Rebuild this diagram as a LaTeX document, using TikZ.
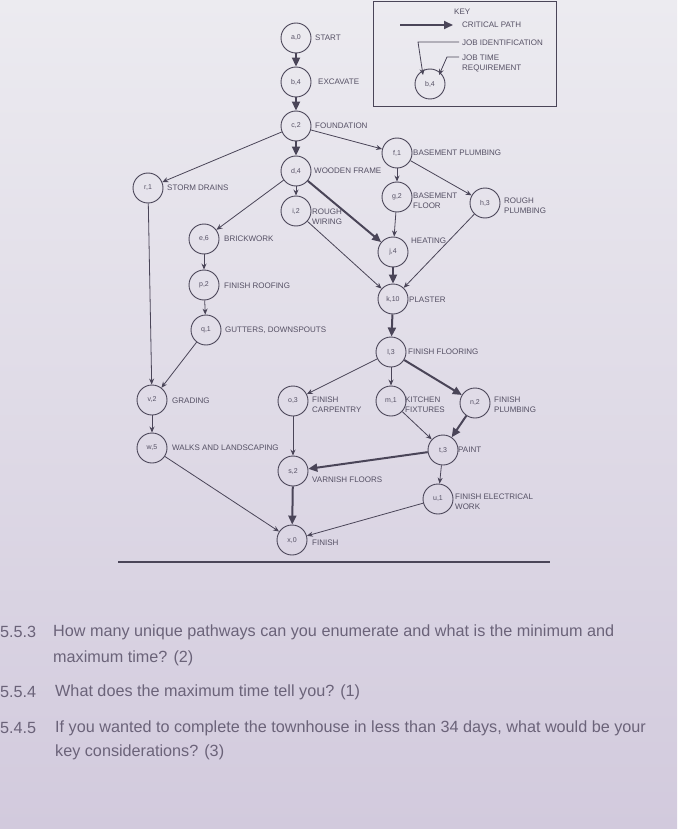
\documentclass[tikz,border=0pt]{standalone}
\usepackage{fontspec}
\setmainfont{Liberation Sans}
\usetikzlibrary{arrows.meta}
\definecolor{ink}{HTML}{4A4558}
\definecolor{txt}{HTML}{555064}
\definecolor{qtxt}{HTML}{6B6379}
\definecolor{bgtop}{HTML}{ECEBF0}
\definecolor{bgbot}{HTML}{D2CADD}
\begin{document}
\begin{tikzpicture}[x=1pt, y=-1pt,
  job/.style={circle, draw=ink, line width=0.9pt, minimum size=30pt, inner sep=0pt, text=txt, font=\fontsize{7}{8}\selectfont},
  lbl/.style={anchor=west, inner sep=0pt, text=txt, align=left, font=\fontsize{8}{10}\selectfont},
  act/.style={draw=ink, line width=0.8pt, -{Stealth[length=6pt,width=5pt]}},
  crit/.style={draw=ink, line width=2pt, -{Triangle[length=9pt,width=8pt]}},
  qst/.style={anchor=west, inner sep=0pt, text=qtxt, font=\fontsize{16.2}{19}\selectfont}]
  \shade[top color=bgtop, bottom color=bgbot] (0,0) rectangle (677,829);
  \useasboundingbox (0,0) rectangle (677,829);
  % key
  \draw[ink, line width=1pt] (373,2) rectangle (556,107);
  \node[lbl] (keyT) at (454,12) {KEY};
  \coordinate (kA) at (400,25); \coordinate (kB) at (453,25);
  \draw[crit] (kA) -- (kB);
  \node[lbl] (keyCP) at (462,25) {CRITICAL PATH};
  \node[lbl] (keyID) at (462,43) {JOB IDENTIFICATION};
  \node[lbl] (keyTR) at (462,63) {JOB TIME\\REQUIREMENT};
  \node[job] (keyjob) at (430,84) {b,4};
  \coordinate (idA) at (459,42); \coordinate (idB) at (418,42); \coordinate (idC) at (423,75);
  \coordinate (trA) at (459,57); \coordinate (trB) at (447,57); \coordinate (trC) at (439,75);
  \draw[act] (idA) -- (idB) -- (idC);
  \draw[act] (trA) -- (trB) -- (trC);
  % jobs
  \node[job] (a) at (296,38) {a,0};
  \node[job] (b) at (296,82) {b,4};
  \node[job] (c) at (296,126) {c,2};
  \node[job] (d) at (296,171) {d,4};
  \node[job] (f) at (397,153) {f,1};
  \node[job] (r) at (148,188) {r,1};
  \node[job] (g) at (397,197) {g,2};
  \node[job] (h) at (485,203) {h,3};
  \node[job] (i) at (296,211) {i,2};
  \node[job] (e) at (204,239) {e,6};
  \node[job] (j) at (393,252) {j,4};
  \node[job] (p) at (204,285) {p,2};
  \node[job] (k) at (393,299) {k,10};
  \node[job] (q) at (206,330) {q,1};
  \node[job] (l) at (391,352) {l,3};
  \node[job] (v) at (152,400) {v,2};
  \node[job] (o) at (293,401) {o,3};
  \node[job] (m) at (391,401) {m,1};
  \node[job] (n) at (475,403) {n,2};
  \node[job] (w) at (152,448) {w,5};
  \node[job] (t) at (443,450) {t,3};
  \node[job] (s) at (293,471) {s,2};
  \node[job] (u) at (438,499) {u,1};
  \node[job] (x) at (292,540) {x,0};
  % job names
  \node[lbl] (aL) at (315,38) {START};
  \node[lbl] (bL) at (318,82) {EXCAVATE};
  \node[lbl] (cL) at (315,126) {FOUNDATION};
  \node[lbl] (dL) at (314,171) {WOODEN FRAME};
  \node[lbl] (fL) at (413,153) {BASEMENT PLUMBING};
  \node[lbl] (rL) at (167,188) {STORM DRAINS};
  \node[lbl] (gL) at (413,201) {BASEMENT\\FLOOR};
  \node[lbl] (hL) at (504,206) {ROUGH\\PLUMBING};
  \node[lbl] (iL) at (312,217) {ROUGH\\WIRING};
  \node[lbl] (eL) at (224,239) {BRICKWORK};
  \node[lbl] (jL) at (411,241) {HEATING};
  \node[lbl] (pL) at (224,286) {FINISH ROOFING};
  \node[lbl] (kL) at (409,300) {PLASTER};
  \node[lbl] (qL) at (225,330) {GUTTERS, DOWNSPOUTS};
  \node[lbl] (lL) at (408,352) {FINISH FLOORING};
  \node[lbl] (vL) at (172,401) {GRADING};
  \node[lbl] (oL) at (312,405) {FINISH\\CARPENTRY};
  \node[lbl] (mL) at (405,405) {KITCHEN\\FIXTURES};
  \node[lbl] (nL) at (494,405) {FINISH\\PLUMBING};
  \node[lbl] (wL) at (172,448) {WALKS AND LANDSCAPING};
  \node[lbl] (tL) at (458,450) {PAINT};
  \node[lbl] (sL) at (312,480) {VARNISH FLOORS};
  \node[lbl] (uL) at (455,502) {FINISH ELECTRICAL\\WORK};
  \node[lbl] (xL) at (312,543) {FINISH};
  % critical path
  \draw[crit] (a)--(b); \draw[crit] (b)--(c); \draw[crit] (c)--(d);
  \draw[crit] (d)--(j); \draw[crit] (j)--(k); \draw[crit] (k)--(l);
  \draw[crit] (l)--(n); \draw[crit] (n)--(t); \draw[crit] (t)--(s);
  \draw[crit] (s)--(x);
  % other jobs
  \draw[act] (c)--(r); \draw[act] (c)--(f); \draw[act] (d)--(e); \draw[act] (d)--(i);
  \draw[act] (f)--(g); \draw[act] (f)--(h); \draw[act] (g)--(j); \draw[act] (h)--(k);
  \draw[act] (i)--(k); \draw[act] (e)--(p); \draw[act] (p)--(q); \draw[act] (q)--(v);
  \draw[act] (r)--(v); \draw[act] (v)--(w); \draw[act] (w)--(x); \draw[act] (l)--(o);
  \draw[act] (l)--(m); \draw[act] (o)--(s); \draw[act] (m)--(t); \draw[act] (t)--(u);
  \draw[act] (u)--(x);
  \draw[ink, line width=1.5pt] (118,562) -- (550,562);
  % questions
  \node[qst] (q553n) at (0,632) {5.5.3};
  \node[qst] (q553a) at (53,632) {How many unique pathways can you enumerate and what is the minimum and};
  \node[qst] (q553b) at (53,658) {maximum time? (2)};
  \node[qst] (q554n) at (0,692) {5.5.4};
  \node[qst] (q554a) at (55,692) {What does the maximum time tell you? (1)};
  \node[qst] (q545n) at (0,728) {5.4.5};
  \node[qst] (q545a) at (55,728) {If you wanted to complete the townhouse in less than 34 days, what would be your};
  \node[qst] (q545b) at (55,752) {key considerations? (3)};
\end{tikzpicture}
\end{document}
